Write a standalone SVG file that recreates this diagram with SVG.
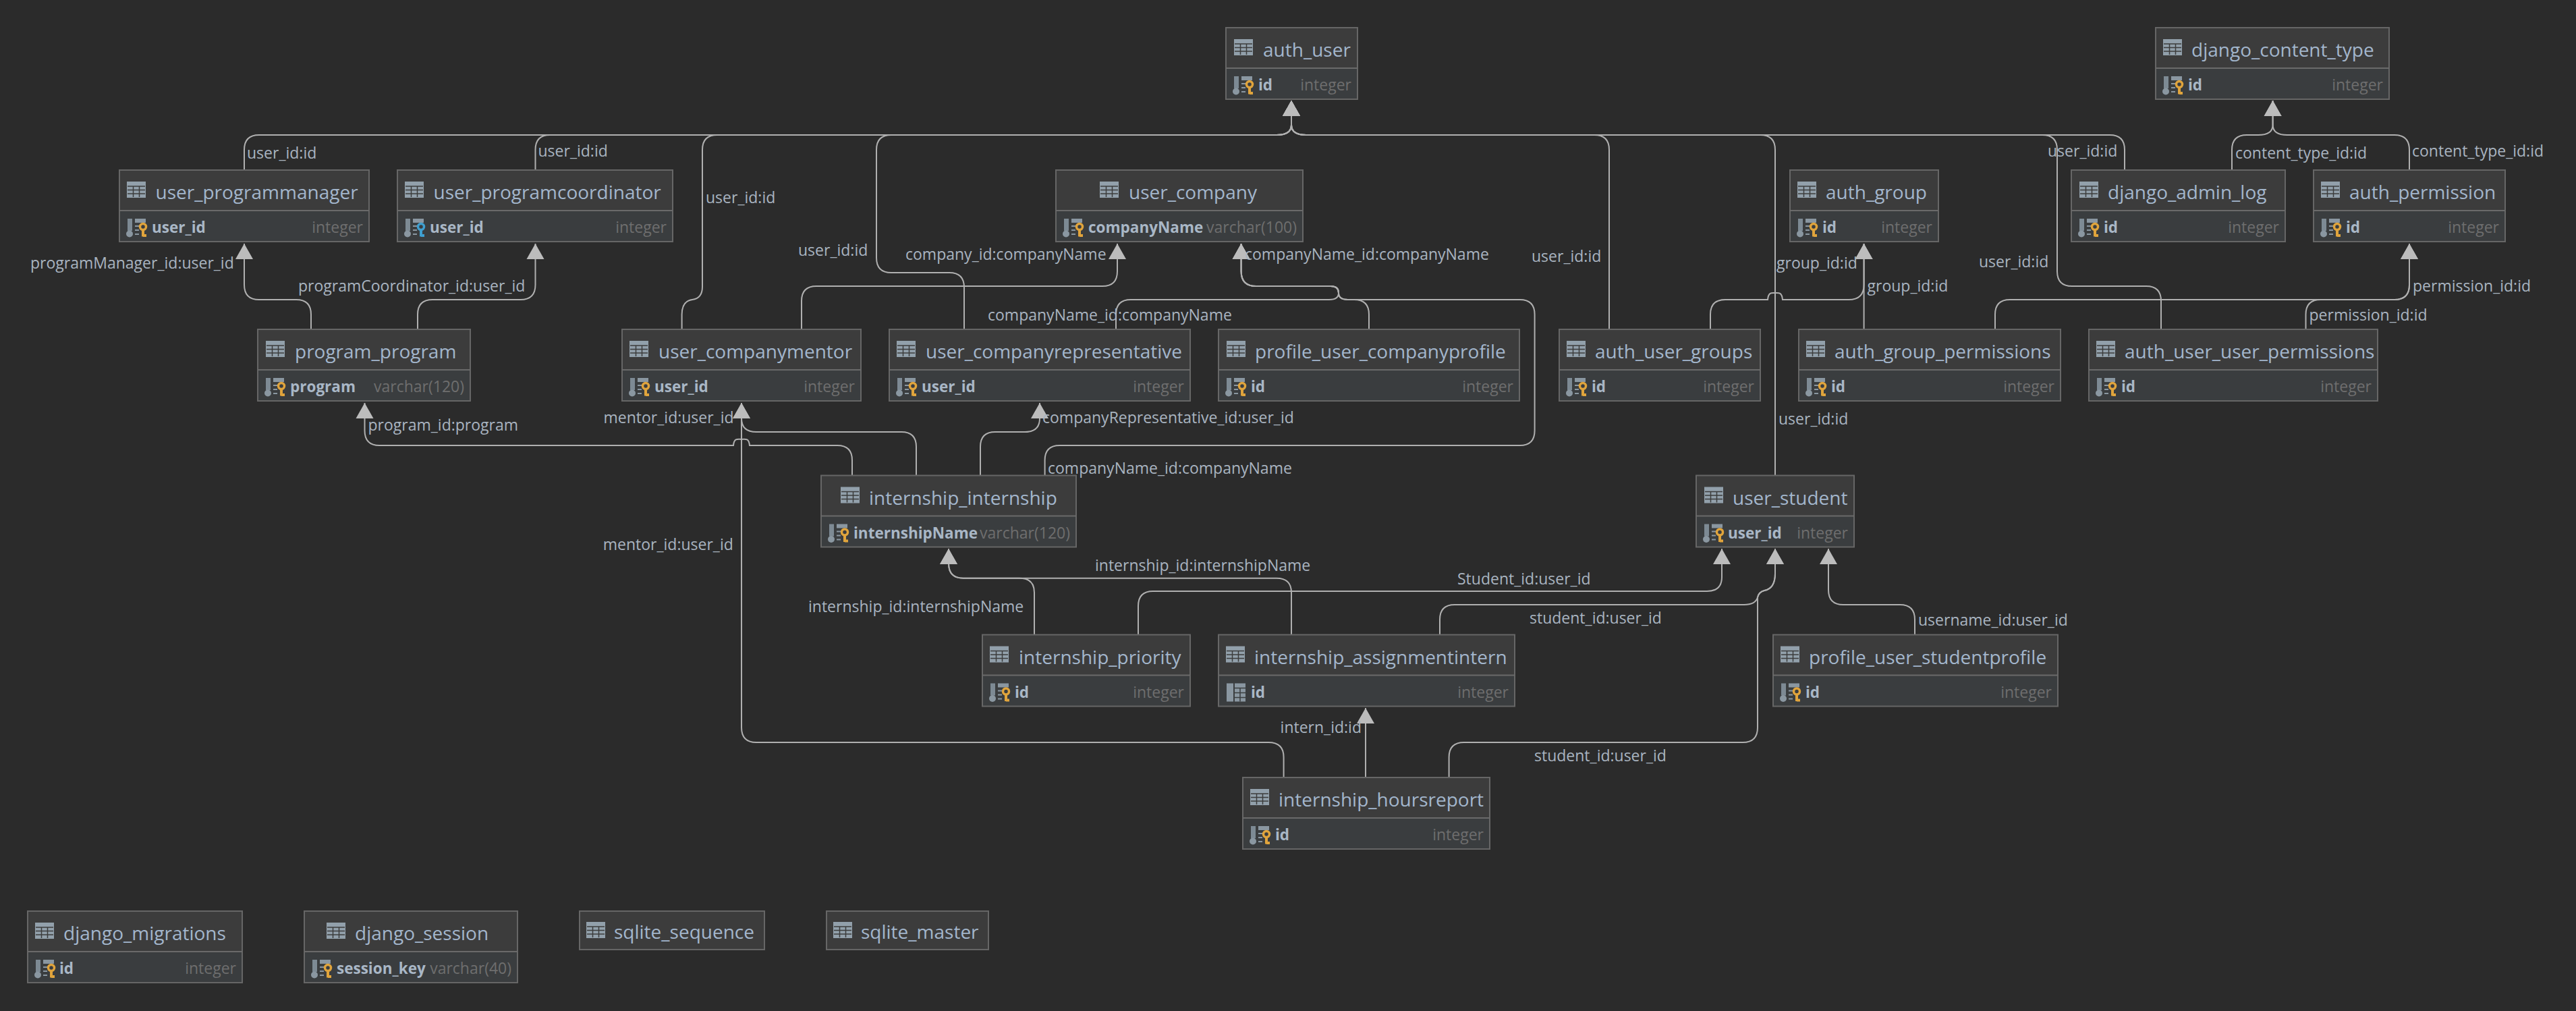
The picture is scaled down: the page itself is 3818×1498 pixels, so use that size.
<svg xmlns="http://www.w3.org/2000/svg" width="3818" height="1498" viewBox="0 0 3818 1498">
<style>
text{font-family:"Open Sans","Liberation Sans",sans-serif}
.h{fill:#3c3c3c}.r{fill:#3a3d3f}.b{fill:none;stroke:#666;stroke-width:2}.s{stroke:#6a6a6a;stroke-width:2}
.t{font-size:28px;fill:#a3b6cc}.n{font-size:22.5px;font-weight:700;fill:#a9b7c6}.y{font-size:23px;fill:#6e6e6e;text-anchor:end}
.l{font-size:23px;fill:#a9b4c0}
#c path{fill:none;stroke:#b0b0b0;stroke-width:2;marker-end:url(#a)}
</style>
<defs>
<marker id="a" markerUnits="userSpaceOnUse" markerWidth="24" markerHeight="28" refX="23" refY="14" orient="auto"><polygon points="0,1 23,14 0,27" fill="#bcbcbc"/></marker>
<g id="t"><rect width="28" height="24" fill="#92a0ab"/><path d="M1,7H27M1,12.500H27M1,18H27M9.500,7V23M18.500,7V23" stroke="#3c3c3c" stroke-width="1.500" fill="none"/></g>
<g id="i"><rect x="12" y="72" width="7" height="18" fill="#7d8a94"/><circle cx="15" cy="94.500" r="5" fill="#8a97a1"/><rect x="23" y="72" width="16" height="6" fill="#8a97a1"/><path d="M23,83H29M23,89H29M23,95H29" stroke="#8a97a1" stroke-width="2" fill="none"/></g>
<g id="k"><use href="#i"/><circle cx="35" cy="84" r="4.500" fill="none" stroke="#e0a43c" stroke-width="3.500"/><path d="M35,88V98.500M35,97H40" stroke="#e0a43c" stroke-width="4" fill="none"/></g>
<g id="kb"><use href="#i"/><circle cx="35" cy="84" r="4.500" fill="none" stroke="#3f9fd0" stroke-width="3.500"/><path d="M35,88V98.500M35,97H40" stroke="#3f9fd0" stroke-width="4" fill="none"/></g>
<g id="c2"><rect x="12" y="72" width="10" height="27" fill="#8a97a1"/><rect x="24" y="72" width="16" height="27" fill="#8a97a1"/><path d="M24,79H40M24,86H40M24,93H40M32,79V99" stroke="#3a3d3f" stroke-width="1.500" fill="none"/></g>
</defs>
<rect width="3818" height="1498" fill="#2b2b2b"/>
<g id="c">
<path d="M362,252V222Q362,200 384,200H1892Q1914,200 1914,185V149"/>
<path d="M793.500,252V222Q793.500,200 815,200H1892Q1914,200 1914,185V149"/>
<path d="M1010.600,488V466Q1010.600,446 1026,444Q1041,442 1041,425V222Q1041,200 1063,200H1892Q1914,200 1914,185V149"/>
<path d="M1429,488V426Q1429,404 1407,404H1321Q1299,404 1299,382V222Q1299,200 1321,200H1892Q1914,200 1914,185V149"/>
<path d="M2385,488V222Q2385,200 2363,200H1936Q1914,200 1914,185V149"/>
<path d="M2631,704V222Q2631,200 2609,200H1936Q1914,200 1914,185V149"/>
<path d="M3149,252V222Q3149,200 3127,200H1936Q1914,200 1914,185V149"/>
<path d="M3203,488V446Q3203,424 3181,424H3071Q3049,424 3049,402V222Q3049,200 3027,200H1936Q1914,200 1914,185V149"/>
<path d="M461,488V466Q461,444 439,444H384Q362,444 362,422V361"/>
<path d="M619,488V466Q619,444 641,444H771.500Q793.500,444 793.500,422V361"/>
<path d="M1358,704V662Q1358,640 1336,640H1121Q1099,640 1099,620V597"/>
<path d="M1902.600,1152V1122Q1902.600,1100 1880,1100H1121Q1099,1100 1099,1078V597"/>
<path d="M1263,704V682Q1263,660 1241,660H1111C1110,648 1103,651 1099,651C1095,651 1088,648 1087,660H562.500Q540.500,660 540.500,638V597"/>
<path d="M1188,488V446Q1188,424 1210,424H1634Q1656,424 1656,402V361"/>
<path d="M1654,488V466Q1654,444 1676,444H1970Q1984,444 1984,434Q1984,424 1972,424H1861.600Q1839.600,424 1839.600,402V361"/>
<path d="M2029,488V466Q2029,444 2007,444H1998Q1984,444 1984,434Q1984,424 1972,424H1861.600Q1839.600,424 1839.600,402V361"/>
<path d="M1548.600,704V682Q1548.600,660 1570.600,660H2252.600Q2274.600,660 2274.600,638V466Q2274.600,444 2252.600,444H1998Q1984,444 1984,434Q1984,424 1972,424H1861.600Q1839.600,424 1839.600,402V361"/>
<path d="M1453,704V662Q1453,640 1475,640H1519Q1541,640 1541,620V597"/>
<path d="M1533,940V878Q1533,856.700 1511,856.700H1428Q1406,856.700 1406,835V813"/>
<path d="M1914,940V878Q1914,856.700 1892,856.700H1428Q1406,856.700 1406,835V813"/>
<path d="M1687,940V898Q1687,876 1709,876H2530Q2552,876 2552,855V813"/>
<path d="M2134,940V918Q2134,896 2156,896H2585Q2602,896 2605,885Q2607,877 2615,875Q2631,872 2631,850V813"/>
<path d="M2147.600,1152V1122Q2147.600,1100 2170,1100H2583Q2605,1100 2605,1078V885Q2607,877 2615,875Q2631,872 2631,850V813"/>
<path d="M2838,940V918Q2838,896 2816,896H2732Q2710,896 2710,874V813"/>
<path d="M2024,1152V1049"/>
<path d="M2762.600,488V361"/>
<path d="M2535,488V466Q2535,444 2557,444H2620C2621,432 2627,434 2631,434C2635,434 2641,432 2642,444H2740Q2762.600,444 2762.600,422V361"/>
<path d="M2957,488V466Q2957,444 2979,444H3549Q3571,444 3571,422V361"/>
<path d="M3417.500,488V466Q3417.500,444 3439.500,444H3549Q3571,444 3571,422V361"/>
<path d="M3308,252V222Q3308,200 3330,200H3347Q3368.600,200 3368.600,185V149"/>
<path d="M3571,252V222Q3571,200 3549,200H3390Q3368.600,200 3368.600,185V149"/>
</g>
<g id="labels">
<text class="l" x="366" y="235">user_id:id</text>
<text class="l" x="797.500" y="232">user_id:id</text>
<text class="l" x="1046" y="301">user_id:id</text>
<text class="l" x="1183" y="379">user_id:id</text>
<text class="l" x="45" y="398">programManager_id:user_id</text>
<text class="l" x="442" y="432">programCoordinator_id:user_id</text>
<text class="l" x="545.500" y="637.500">program_id:program</text>
<text class="l" x="894.500" y="627">mentor_id:user_id</text>
<text class="l" x="1342" y="385">company_id:companyName</text>
<text class="l" x="1845" y="385">companyName_id:companyName</text>
<text class="l" x="1464" y="474.500">companyName_id:companyName</text>
<text class="l" x="1545" y="627">companyRepresentative_id:user_id</text>
<text class="l" x="1553" y="702">companyName_id:companyName</text>
<text class="l" x="2270" y="388">user_id:id</text>
<text class="l" x="2633" y="398">group_id:id</text>
<text class="l" x="2767.500" y="432">group_id:id</text>
<text class="l" x="2933" y="396">user_id:id</text>
<text class="l" x="3035" y="232">user_id:id</text>
<text class="l" x="3313" y="235">content_type_id:id</text>
<text class="l" x="3575" y="232">content_type_id:id</text>
<text class="l" x="3576" y="432">permission_id:id</text>
<text class="l" x="3422.500" y="474.500">permission_id:id</text>
<text class="l" x="2636" y="628.600">user_id:id</text>
<text class="l" x="893.700" y="815">mentor_id:user_id</text>
<text class="l" x="1198" y="906.700">internship_id:internshipName</text>
<text class="l" x="1623" y="846">internship_id:internshipName</text>
<text class="l" x="2160" y="865.600">Student_id:user_id</text>
<text class="l" x="2267" y="923.700">student_id:user_id</text>
<text class="l" x="2843" y="926.800">username_id:user_id</text>
<text class="l" x="1897.600" y="1085.700">intern_id:id</text>
<text class="l" x="2274" y="1127.700">student_id:user_id</text>
</g>
<g id="auth_user" transform="translate(1817,41)"><rect class="h" width="195" height="60"/><rect class="r" y="60" width="195" height="46"/><rect class="b" width="195" height="106"/><line class="s" x2="195" y1="60" y2="60"/><use href="#t" x="12" y="17"/><text class="t" x="55" y="43">auth_user</text><use href="#k"/><text class="n" x="48" y="93">id</text><text class="y" x="186" y="93">integer</text></g>
<g id="django_content_type" transform="translate(3195,41)"><rect class="h" width="346" height="60"/><rect class="r" y="60" width="346" height="46"/><rect class="b" width="346" height="106"/><line class="s" x2="346" y1="60" y2="60"/><use href="#t" x="11" y="17"/><text class="t" x="53" y="43">django_content_type</text><use href="#k"/><text class="n" x="48" y="93">id</text><text class="y" x="337" y="93">integer</text></g>
<g id="user_programmanager" transform="translate(177,252)"><rect class="h" width="370" height="60"/><rect class="r" y="60" width="370" height="46"/><rect class="b" width="370" height="106"/><line class="s" x2="370" y1="60" y2="60"/><use href="#t" x="11" y="17"/><text class="t" x="53.500" y="43">user_programmanager</text><use href="#k"/><text class="n" x="48" y="93">user_id</text><text class="y" x="361" y="93">integer</text></g>
<g id="user_programcoordinator" transform="translate(589,252)"><rect class="h" width="408" height="60"/><rect class="r" y="60" width="408" height="46"/><rect class="b" width="408" height="106"/><line class="s" x2="408" y1="60" y2="60"/><use href="#t" x="11" y="17"/><text class="t" x="53.500" y="43">user_programcoordinator</text><use href="#kb"/><text class="n" x="48" y="93">user_id</text><text class="y" x="399" y="93">integer</text></g>
<g id="user_company" transform="translate(1565,252)"><rect class="h" width="366" height="60"/><rect class="r" y="60" width="366" height="46"/><rect class="b" width="366" height="106"/><line class="s" x2="366" y1="60" y2="60"/><use href="#t" x="65" y="17"/><text class="t" x="108" y="43">user_company</text><use href="#k"/><text class="n" x="48" y="93">companyName</text><text class="y" x="357" y="93">varchar(100)</text></g>
<g id="auth_group" transform="translate(2653,252)"><rect class="h" width="220" height="60"/><rect class="r" y="60" width="220" height="46"/><rect class="b" width="220" height="106"/><line class="s" x2="220" y1="60" y2="60"/><use href="#t" x="11" y="17"/><text class="t" x="53" y="43">auth_group</text><use href="#k"/><text class="n" x="48" y="93">id</text><text class="y" x="211" y="93">integer</text></g>
<g id="django_admin_log" transform="translate(3070,252)"><rect class="h" width="317" height="60"/><rect class="r" y="60" width="317" height="46"/><rect class="b" width="317" height="106"/><line class="s" x2="317" y1="60" y2="60"/><use href="#t" x="12" y="17"/><text class="t" x="54" y="43">django_admin_log</text><use href="#k"/><text class="n" x="48" y="93">id</text><text class="y" x="308" y="93">integer</text></g>
<g id="auth_permission" transform="translate(3429,252)"><rect class="h" width="284" height="60"/><rect class="r" y="60" width="284" height="46"/><rect class="b" width="284" height="106"/><line class="s" x2="284" y1="60" y2="60"/><use href="#t" x="11" y="17"/><text class="t" x="53" y="43">auth_permission</text><use href="#k"/><text class="n" x="48" y="93">id</text><text class="y" x="275" y="93">integer</text></g>
<g id="program_program" transform="translate(382,488)"><rect class="h" width="315" height="60"/><rect class="r" y="60" width="315" height="46"/><rect class="b" width="315" height="106"/><line class="s" x2="315" y1="60" y2="60"/><use href="#t" x="12" y="17"/><text class="t" x="55" y="43">program_program</text><use href="#k"/><text class="n" x="48" y="93">program</text><text class="y" x="306" y="93">varchar(120)</text></g>
<g id="user_companymentor" transform="translate(922,488)"><rect class="h" width="354" height="60"/><rect class="r" y="60" width="354" height="46"/><rect class="b" width="354" height="106"/><line class="s" x2="354" y1="60" y2="60"/><use href="#t" x="11" y="17"/><text class="t" x="54" y="43">user_companymentor</text><use href="#k"/><text class="n" x="48" y="93">user_id</text><text class="y" x="345" y="93">integer</text></g>
<g id="user_companyrepresentative" transform="translate(1318,488)"><rect class="h" width="446" height="60"/><rect class="r" y="60" width="446" height="46"/><rect class="b" width="446" height="106"/><line class="s" x2="446" y1="60" y2="60"/><use href="#t" x="11" y="17"/><text class="t" x="54" y="43">user_companyrepresentative</text><use href="#k"/><text class="n" x="48" y="93">user_id</text><text class="y" x="437" y="93">integer</text></g>
<g id="profile_user_companyprofile" transform="translate(1806,488)"><rect class="h" width="446" height="60"/><rect class="r" y="60" width="446" height="46"/><rect class="b" width="446" height="106"/><line class="s" x2="446" y1="60" y2="60"/><use href="#t" x="12" y="17"/><text class="t" x="54" y="43">profile_user_companyprofile</text><use href="#k"/><text class="n" x="48" y="93">id</text><text class="y" x="437" y="93">integer</text></g>
<g id="auth_user_groups" transform="translate(2311,488)"><rect class="h" width="298" height="60"/><rect class="r" y="60" width="298" height="46"/><rect class="b" width="298" height="106"/><line class="s" x2="298" y1="60" y2="60"/><use href="#t" x="11" y="17"/><text class="t" x="53" y="43">auth_user_groups</text><use href="#k"/><text class="n" x="48" y="93">id</text><text class="y" x="289" y="93">integer</text></g>
<g id="auth_group_permissions" transform="translate(2666,488)"><rect class="h" width="388" height="60"/><rect class="r" y="60" width="388" height="46"/><rect class="b" width="388" height="106"/><line class="s" x2="388" y1="60" y2="60"/><use href="#t" x="11" y="17"/><text class="t" x="53" y="43">auth_group_permissions</text><use href="#k"/><text class="n" x="48" y="93">id</text><text class="y" x="379" y="93">integer</text></g>
<g id="auth_user_user_permissions" transform="translate(3096,488)"><rect class="h" width="428" height="60"/><rect class="r" y="60" width="428" height="46"/><rect class="b" width="428" height="106"/><line class="s" x2="428" y1="60" y2="60"/><use href="#t" x="11" y="17"/><text class="t" x="53" y="43">auth_user_user_permissions</text><use href="#k"/><text class="n" x="48" y="93">id</text><text class="y" x="419" y="93">integer</text></g>
<g id="internship_internship" transform="translate(1217,704.500)"><rect class="h" width="378" height="60"/><rect class="r" y="60" width="378" height="46"/><rect class="b" width="378" height="106"/><line class="s" x2="378" y1="60" y2="60"/><use href="#t" x="29" y="17"/><text class="t" x="71" y="43">internship_internship</text><use href="#k"/><text class="n" x="48" y="93">internshipName</text><text class="y" x="369" y="93">varchar(120)</text></g>
<g id="user_student" transform="translate(2514,704.500)"><rect class="h" width="234" height="60"/><rect class="r" y="60" width="234" height="46"/><rect class="b" width="234" height="106"/><line class="s" x2="234" y1="60" y2="60"/><use href="#t" x="12" y="17"/><text class="t" x="54" y="43">user_student</text><use href="#k"/><text class="n" x="47" y="93">user_id</text><text class="y" x="225" y="93">integer</text></g>
<g id="internship_priority" transform="translate(1456,940.500)"><rect class="h" width="308" height="60"/><rect class="r" y="60" width="308" height="46"/><rect class="b" width="308" height="106"/><line class="s" x2="308" y1="60" y2="60"/><use href="#t" x="11" y="17"/><text class="t" x="54" y="43">internship_priority</text><use href="#k"/><text class="n" x="48" y="93">id</text><text class="y" x="299" y="93">integer</text></g>
<g id="internship_assignmentintern" transform="translate(1806,940.500)"><rect class="h" width="439" height="60"/><rect class="r" y="60" width="439" height="46"/><rect class="b" width="439" height="106"/><line class="s" x2="439" y1="60" y2="60"/><use href="#t" x="11" y="17"/><text class="t" x="53" y="43">internship_assignmentintern</text><use href="#c2"/><text class="n" x="48" y="93">id</text><text class="y" x="430" y="93">integer</text></g>
<g id="profile_user_studentprofile" transform="translate(2628,940.500)"><rect class="h" width="422" height="60"/><rect class="r" y="60" width="422" height="46"/><rect class="b" width="422" height="106"/><line class="s" x2="422" y1="60" y2="60"/><use href="#t" x="11" y="17"/><text class="t" x="53" y="43">profile_user_studentprofile</text><use href="#k"/><text class="n" x="48" y="93">id</text><text class="y" x="413" y="93">integer</text></g>
<g id="internship_hoursreport" transform="translate(1842,1152)"><rect class="h" width="366" height="60"/><rect class="r" y="60" width="366" height="46"/><rect class="b" width="366" height="106"/><line class="s" x2="366" y1="60" y2="60"/><use href="#t" x="11" y="17"/><text class="t" x="53" y="43">internship_hoursreport</text><use href="#k"/><text class="n" x="48" y="93">id</text><text class="y" x="357" y="93">integer</text></g>
<g id="django_migrations" transform="translate(41,1350)"><rect class="h" width="318" height="60"/><rect class="r" y="60" width="318" height="46"/><rect class="b" width="318" height="106"/><line class="s" x2="318" y1="60" y2="60"/><use href="#t" x="11" y="17"/><text class="t" x="53" y="43">django_migrations</text><use href="#k"/><text class="n" x="47" y="93">id</text><text class="y" x="309" y="93">integer</text></g>
<g id="django_session" transform="translate(451,1350)"><rect class="h" width="316" height="60"/><rect class="r" y="60" width="316" height="46"/><rect class="b" width="316" height="106"/><line class="s" x2="316" y1="60" y2="60"/><use href="#t" x="33" y="17"/><text class="t" x="75" y="43">django_session</text><use href="#k"/><text class="n" x="48" y="93">session_key</text><text class="y" x="307" y="93">varchar(40)</text></g>
<g id="sqlite_sequence" transform="translate(859,1350)"><rect class="h" width="274" height="57"/><rect class="b" width="274" height="57"/><use href="#t" x="10" y="16"/><text class="t" x="51" y="41">sqlite_sequence</text></g>
<g id="sqlite_master" transform="translate(1225,1350)"><rect class="h" width="240" height="57"/><rect class="b" width="240" height="57"/><use href="#t" x="10" y="16"/><text class="t" x="51" y="41">sqlite_master</text></g>
</svg>
